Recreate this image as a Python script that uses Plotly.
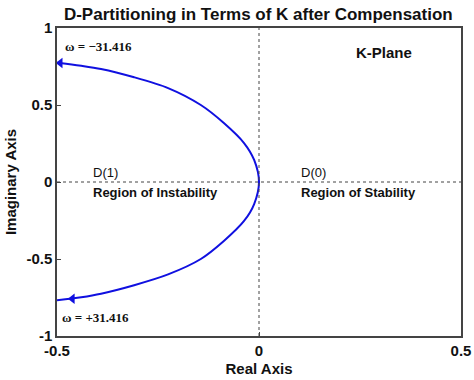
import plotly.graph_objects as go

# Curve (real, imaginary)
re_vals = [-0.500, -0.493, -0.440, -0.391, -0.309, -0.225, -0.144, -0.087, -0.037, -0.012, 0.000,
           -0.012, -0.037, -0.087, -0.144, -0.225, -0.309, -0.391, -0.440, -0.500]
im_vals = [0.775, 0.773, 0.755, 0.734, 0.680, 0.610, 0.500, 0.383, 0.253, 0.143, 0.000,
           -0.143, -0.253, -0.383, -0.500, -0.600, -0.670, -0.725, -0.748, -0.768]

x_ticks = [-0.5, 0, 0.5]
y_ticks = [-1, -0.5, 0, 0.5, 1]

fig = go.Figure()
fig.add_trace(go.Scatter(x=re_vals, y=im_vals, mode="lines",
                         line=dict(color="#1010e0", width=2, shape="spline", smoothing=0.8),
                         hoverinfo="skip", showlegend=False, cliponaxis=True))

# arrowheads
fig.add_trace(go.Scatter(x=[-0.492, -0.462], y=[0.773, -0.758], mode="markers",
                         marker=dict(symbol="triangle-left", size=9, color="#1010e0"),
                         showlegend=False, hoverinfo="skip"))

fig.add_shape(type="line", x0=0, x1=0, y0=-1, y1=1, line=dict(color="#444", width=1, dash="3px,3px"))
fig.add_shape(type="line", x0=-0.5, x1=0.5, y0=0, y1=0, line=dict(color="#444", width=1, dash="3px,3px"))

ann_font = dict(family="Liberation Sans, Arial", size=13, color="#111")
fig.add_annotation(x=-0.415, y=0.0, text="D(1)", showarrow=False, xanchor="left", yanchor="bottom", font=ann_font)
fig.add_annotation(x=-0.415, y=-0.005, text="<b>Region of Instability</b>", showarrow=False, xanchor="left", yanchor="top", font=ann_font)
fig.add_annotation(x=0.098, y=0.0, text="D(0)", showarrow=False, xanchor="left", yanchor="bottom", font=ann_font)
fig.add_annotation(x=0.098, y=-0.005, text="<b>Region of Stability</b>", showarrow=False, xanchor="left", yanchor="top", font=ann_font)
fig.add_annotation(x=0.31, y=0.84, text="<b>K-Plane</b>", showarrow=False, font=dict(family="Liberation Sans, Arial", size=15, color="#111"))
wfont = dict(family="Liberation Serif, Times New Roman", size=13, color="#111")
fig.add_annotation(x=-0.485, y=0.88, text="<b>ω = −31.416</b>", showarrow=False, xanchor="left", font=wfont)
fig.add_annotation(x=-0.492, y=-0.88, text="<b>ω = +31.416</b>", showarrow=False, xanchor="left", font=wfont)

axfont = dict(family="Liberation Sans, Arial", size=15, color="#111")
fig.update_layout(
    width=474, height=380,
    margin=dict(l=57, r=13, t=28, b=44, autoexpand=False),
    paper_bgcolor="white", plot_bgcolor="white",
    title=dict(text="<b>D-Partitioning in Terms of K after Compensation</b>",
               x=0.545, xanchor="center", y=0.962, yanchor="middle",
               font=dict(family="Liberation Sans, Arial", size=17, color="#111")),
    xaxis=dict(range=[-0.5, 0.5], tickvals=x_ticks, ticktext=["<b>-0.5</b>", "<b>0</b>", "<b>0.5</b>"],
               showgrid=False, zeroline=False, showline=True, linecolor="#444", linewidth=1.5, mirror=True,
               ticks="inside", ticklen=4, tickcolor="#444", tickfont=axfont, automargin=False,
               title=dict(text="<b>Real Axis</b>", font=axfont, standoff=6)),
    yaxis=dict(range=[-1, 1], tickvals=y_ticks, ticktext=["<b>-1</b>", "<b>-0.5</b>", "<b>0</b>", "<b>0.5</b>", "<b>1</b>"],
               showgrid=False, zeroline=False, showline=True, linecolor="#444", linewidth=1.5, mirror=True,
               ticks="inside", ticklen=4, tickcolor="#444", tickfont=axfont, automargin=False,
               title=dict(text="<b>Imaginary Axis</b>", font=axfont, standoff=6)),
)
fig.write_html("out.html", config={"displayModeBar": False},
               post_script="document.body.style.margin='0px';")
